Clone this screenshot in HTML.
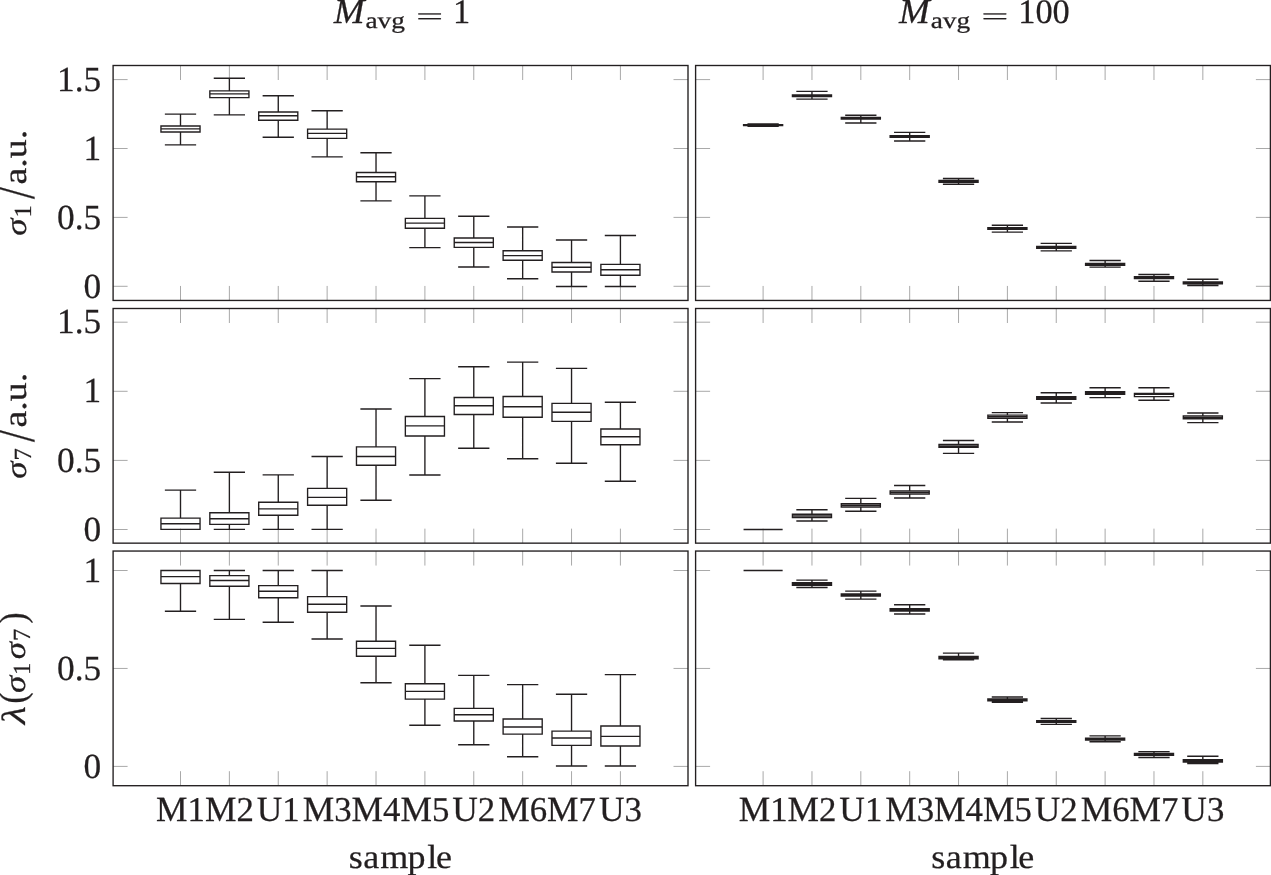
<!DOCTYPE html>
<html lang="en">
<head>
<meta charset="utf-8">
<title>Boxplots</title>
<style>
html,body{margin:0;padding:0;background:#fff;}
body{width:1271px;height:875px;overflow:hidden;}
svg{display:block;}
text{font-family:"Liberation Serif",serif;fill:#231f20;stroke:#231f20;stroke-width:0.25px;text-rendering:geometricPrecision;}
.ln{fill:none;stroke:#231f20;stroke-width:1.36;stroke-linecap:butt;stroke-linejoin:miter;}
.tk{fill:none;stroke:#808080;stroke-width:0.68;}
</style>
</head>
<body>
<svg width="1271" height="875" viewBox="0 0 1271 875">
<rect width="1271" height="875" fill="#fff"/>
<path class="tk" d="M180.5 65.5v14.5M180.5 300.45v-14.5M229.38 65.5v14.5M229.38 300.45v-14.5M278.26 65.5v14.5M278.26 300.45v-14.5M327.14 65.5v14.5M327.14 300.45v-14.5M376.02 65.5v14.5M376.02 300.45v-14.5M424.9 65.5v14.5M424.9 300.45v-14.5M473.78 65.5v14.5M473.78 300.45v-14.5M522.66 65.5v14.5M522.66 300.45v-14.5M571.54 65.5v14.5M571.54 300.45v-14.5M620.42 65.5v14.5M620.42 300.45v-14.5M113.1 79.6h14.5M688 79.6h-14.5M113.1 148.5h14.5M688 148.5h-14.5M113.1 217.4h14.5M688 217.4h-14.5M113.1 286.3h14.5M688 286.3h-14.5"/>
<rect class="ln" x="113.1" y="65.5" width="574.9" height="234.95"/>
<path class="ln" d="M164.86 114.1H196.14M164.86 144.9H196.14M180.5 114.1V126M180.5 132V144.9M160.95 126H200.05V132H160.95ZM160.95 128.9H200.05M213.74 78.3H245.02M213.74 114.9H245.02M229.38 78.3V90.9M229.38 97.6V114.9M209.83 90.9H248.93V97.6H209.83ZM209.83 93.9H248.93M262.62 95.8H293.9M262.62 137.3H293.9M278.26 95.8V112M278.26 120.3V137.3M258.71 112H297.81V120.3H258.71ZM258.71 115.7H297.81M311.5 110.8H342.78M311.5 156.9H342.78M327.14 110.8V129.1M327.14 138.4V156.9M307.59 129.1H346.69V138.4H307.59ZM307.59 133.4H346.69M360.38 152.8H391.66M360.38 200.9H391.66M376.02 152.8V172.5M376.02 181.8V200.9M356.47 172.5H395.57V181.8H356.47ZM356.47 176.8H395.57M409.26 195.85H440.54M409.26 247.6H440.54M424.9 195.85V218.35M424.9 228.2V247.6M405.35 218.35H444.45V228.2H405.35ZM405.35 223.06H444.45M458.14 216.3H489.42M458.14 267.05H489.42M473.78 216.3V238M473.78 247.4V267.05M454.23 238H493.33V247.4H454.23ZM454.23 242.5H493.33M507.02 226.95H538.3M507.02 278.7H538.3M522.66 226.95V250.7M522.66 260.3V278.7M503.11 250.7H542.21V260.3H503.11ZM503.11 255.6H542.21M555.9 240H587.18M555.9 286.5H587.18M571.54 240V262.5M571.54 271.95V286.5M551.99 262.5H591.09V271.95H551.99ZM551.99 267.25H591.09M604.78 235.5H636.06M604.78 286.5H636.06M620.42 235.5V264.4M620.42 275.2V286.5M600.87 264.4H639.97V275.2H600.87ZM600.87 269.7H639.97"/>
<path class="tk" d="M763.1 65.5v14.5M763.1 300.45v-14.5M811.96 65.5v14.5M811.96 300.45v-14.5M860.82 65.5v14.5M860.82 300.45v-14.5M909.68 65.5v14.5M909.68 300.45v-14.5M958.54 65.5v14.5M958.54 300.45v-14.5M1007.4 65.5v14.5M1007.4 300.45v-14.5M1056.26 65.5v14.5M1056.26 300.45v-14.5M1105.12 65.5v14.5M1105.12 300.45v-14.5M1153.98 65.5v14.5M1153.98 300.45v-14.5M1202.84 65.5v14.5M1202.84 300.45v-14.5M695.6 79.6h14.5M1270.4 79.6h-14.5M695.6 148.5h14.5M1270.4 148.5h-14.5M695.6 217.4h14.5M1270.4 217.4h-14.5M695.6 286.3h14.5M1270.4 286.3h-14.5"/>
<rect class="ln" x="695.6" y="65.5" width="574.8" height="234.95"/>
<path class="ln" d="M747.46 124H778.74M747.46 126.2H778.74M763.1 124V124.7M763.1 125.5V126.2M743.56 124.7H782.64V125.5H743.56ZM743.56 125.1H782.64M796.32 91.4H827.6M796.32 99.1H827.6M811.96 91.4V94.9M811.96 96.6V99.1M792.42 94.9H831.5V96.6H792.42ZM792.42 95.75H831.5M845.18 115.3H876.46M845.18 123H876.46M860.82 115.3V117.45M860.82 119.15V123M841.28 117.45H880.36V119.15H841.28ZM841.28 118.3H880.36M894.04 132.4H925.32M894.04 141H925.32M909.68 132.4V135.6M909.68 137.3V141M890.14 135.6H929.22V137.3H890.14ZM890.14 136.45H929.22M942.9 178.5H974.18M942.9 184.3H974.18M958.54 178.5V180.55M958.54 182.25V184.3M939 180.55H978.08V182.25H939ZM939 181.4H978.08M991.76 225.2H1023.04M991.76 232.1H1023.04M1007.4 225.2V227.7M1007.4 229.4V232.1M987.86 227.7H1026.94V229.4H987.86ZM987.86 228.55H1026.94M1040.62 243.4H1071.9M1040.62 250.9H1071.9M1056.26 243.4V246.55M1056.26 248.25V250.9M1036.72 246.55H1075.8V248.25H1036.72ZM1036.72 247.4H1075.8M1089.48 260.55H1120.76M1089.48 267.1H1120.76M1105.12 260.55V263.5M1105.12 265.2V267.1M1085.58 263.5H1124.66V265.2H1085.58ZM1085.58 264.35H1124.66M1138.34 274.5H1169.62M1138.34 281.2H1169.62M1153.98 274.5V276.8M1153.98 278.5V281.2M1134.44 276.8H1173.52V278.5H1134.44ZM1134.44 277.65H1173.52M1187.2 279.2H1218.48M1187.2 285.5H1218.48M1202.84 279.2V282M1202.84 283.7V285.5M1183.3 282H1222.38V283.7H1183.3ZM1183.3 282.85H1222.38"/>
<path class="tk" d="M180.5 308.5v14.5M180.5 543.15v-14.5M229.38 308.5v14.5M229.38 543.15v-14.5M278.26 308.5v14.5M278.26 543.15v-14.5M327.14 308.5v14.5M327.14 543.15v-14.5M376.02 308.5v14.5M376.02 543.15v-14.5M424.9 308.5v14.5M424.9 543.15v-14.5M473.78 308.5v14.5M473.78 543.15v-14.5M522.66 308.5v14.5M522.66 543.15v-14.5M571.54 308.5v14.5M571.54 543.15v-14.5M620.42 308.5v14.5M620.42 543.15v-14.5M113.1 322.2h14.5M688 322.2h-14.5M113.1 391.3h14.5M688 391.3h-14.5M113.1 460.4h14.5M688 460.4h-14.5M113.1 529.5h14.5M688 529.5h-14.5"/>
<rect class="ln" x="113.1" y="308.5" width="574.9" height="234.65"/>
<path class="ln" d="M164.86 490.07H196.14M164.86 529.35H196.14M180.5 490.07V518.1M160.95 518.1H200.05V529.35H160.95ZM160.95 523.8H200.05M213.74 472.3H245.02M213.74 529.35H245.02M229.38 472.3V512.8M229.38 524.4V529.35M209.83 512.8H248.93V524.4H209.83ZM209.83 518.7H248.93M262.62 474.9H293.9M262.62 529.35H293.9M278.26 474.9V502.3M278.26 515.2V529.35M258.71 502.3H297.81V515.2H258.71ZM258.71 508.9H297.81M311.5 456.5H342.78M311.5 529.35H342.78M327.14 456.5V488.4M327.14 505.2V529.35M307.59 488.4H346.69V505.2H307.59ZM307.59 497.4H346.69M360.38 409.05H391.66M360.38 500.3H391.66M376.02 409.05V446.9M376.02 465.3V500.3M356.47 446.9H395.57V465.3H356.47ZM356.47 456.5H395.57M409.26 378.67H440.54M409.26 475H440.54M424.9 378.67V416.5M424.9 435.95V475M405.35 416.5H444.45V435.95H405.35ZM405.35 425.9H444.45M458.14 366.8H489.42M458.14 448.2H489.42M473.78 366.8V397.5M473.78 414.5V448.2M454.23 397.5H493.33V414.5H454.23ZM454.23 405.7H493.33M507.02 362.1H538.3M507.02 458.7H538.3M522.66 362.1V396.5M522.66 417.3V458.7M503.11 396.5H542.21V417.3H503.11ZM503.11 406.7H542.21M555.9 368.4H587.18M555.9 463.2H587.18M571.54 368.4V403.4M571.54 421.4V463.2M551.99 403.4H591.09V421.4H551.99ZM551.99 412.2H591.09M604.78 402.2H636.06M604.78 481.2H636.06M620.42 402.2V429M620.42 444.7V481.2M600.87 429H639.97V444.7H600.87ZM600.87 436.8H639.97"/>
<path class="tk" d="M763.1 308.5v14.5M763.1 543.15v-14.5M811.96 308.5v14.5M811.96 543.15v-14.5M860.82 308.5v14.5M860.82 543.15v-14.5M909.68 308.5v14.5M909.68 543.15v-14.5M958.54 308.5v14.5M958.54 543.15v-14.5M1007.4 308.5v14.5M1007.4 543.15v-14.5M1056.26 308.5v14.5M1056.26 543.15v-14.5M1105.12 308.5v14.5M1105.12 543.15v-14.5M1153.98 308.5v14.5M1153.98 543.15v-14.5M1202.84 308.5v14.5M1202.84 543.15v-14.5M695.6 322.2h14.5M1270.4 322.2h-14.5M695.6 391.3h14.5M1270.4 391.3h-14.5M695.6 460.4h14.5M1270.4 460.4h-14.5M695.6 529.5h14.5M1270.4 529.5h-14.5"/>
<rect class="ln" x="695.6" y="308.5" width="574.8" height="234.65"/>
<path class="ln" d="M747.46 529.45H778.74M747.46 529.45H778.74M743.56 529.45H782.64M796.32 509.8H827.6M796.32 521.05H827.6M811.96 509.8V514.2M811.96 517.5V521.05M792.42 514.2H831.5V517.5H792.42ZM792.42 515.85H831.5M845.18 498.35H876.46M845.18 511.25H876.46M860.82 498.35V503.75M860.82 507.05V511.25M841.28 503.75H880.36V507.05H841.28ZM841.28 505.4H880.36M894.04 485.45H925.32M894.04 497.95H925.32M909.68 485.45V490.85M909.68 493.95V497.95M890.14 490.85H929.22V493.95H890.14ZM890.14 492.4H929.22M942.9 440.45H974.18M942.9 453.35H974.18M958.54 440.45V444.4M958.54 447.3V453.35M939 444.4H978.08V447.3H939ZM939 445.85H978.08M991.76 412.6H1023.04M991.76 422H1023.04M1007.4 412.6V415.1M1007.4 418.2V422M987.86 415.1H1026.94V418.2H987.86ZM987.86 416.65H1026.94M1040.62 392.7H1071.9M1040.62 402.95H1071.9M1056.26 392.7V396.7M1056.26 399.2V402.95M1036.72 396.7H1075.8V399.2H1036.72ZM1036.72 397.95H1075.8M1089.48 387.8H1120.76M1089.48 397.65H1120.76M1105.12 387.8V391.6M1105.12 394.3V397.65M1085.58 391.6H1124.66V394.3H1085.58ZM1085.58 392.95H1124.66M1138.34 387.8H1169.62M1138.34 400.3H1169.62M1153.98 387.8V393.4M1153.98 396.6V400.3M1134.44 393.4H1173.52V396.6H1134.44ZM1134.44 394.2H1173.52M1187.2 413H1218.48M1187.2 422.6H1218.48M1202.84 413V415.9M1202.84 418.8V422.6M1183.3 415.9H1222.38V418.8H1183.3ZM1183.3 417.35H1222.38"/>
<path class="tk" d="M180.5 551.05v14.5M180.5 785.7v-14.5M229.38 551.05v14.5M229.38 785.7v-14.5M278.26 551.05v14.5M278.26 785.7v-14.5M327.14 551.05v14.5M327.14 785.7v-14.5M376.02 551.05v14.5M376.02 785.7v-14.5M424.9 551.05v14.5M424.9 785.7v-14.5M473.78 551.05v14.5M473.78 785.7v-14.5M522.66 551.05v14.5M522.66 785.7v-14.5M571.54 551.05v14.5M571.54 785.7v-14.5M620.42 551.05v14.5M620.42 785.7v-14.5M113.1 570.5h14.5M688 570.5h-14.5M113.1 668.45h14.5M688 668.45h-14.5M113.1 766.4h14.5M688 766.4h-14.5"/>
<rect class="ln" x="113.1" y="551.05" width="574.9" height="234.65"/>
<path class="ln" d="M164.86 570.46H196.14M164.86 611.2H196.14M180.5 583.55V611.2M160.95 570.46H200.05V583.55H160.95ZM160.95 576.6H200.05M213.74 570.46H245.02M213.74 619.35H245.02M229.38 570.46V575.6M229.38 586.2V619.35M209.83 575.6H248.93V586.2H209.83ZM209.83 580.5H248.93M262.62 570.46H293.9M262.62 622.2H293.9M278.26 570.46V585.6M278.26 597.7V622.2M258.71 585.6H297.81V597.7H258.71ZM258.71 591.3H297.81M311.5 570.46H342.78M311.5 639H342.78M327.14 570.46V596.6M327.14 612.2V639M307.59 596.6H346.69V612.2H307.59ZM307.59 604.2H346.69M360.38 606.05H391.66M360.38 682.8H391.66M376.02 606.05V641.2M376.02 656.2V682.8M356.47 641.2H395.57V656.2H356.47ZM356.47 648.4H395.57M409.26 645.3H440.54M409.26 725.3H440.54M424.9 645.3V683.8M424.9 699.15V725.3M405.35 683.8H444.45V699.15H405.35ZM405.35 691.4H444.45M458.14 675.4H489.42M458.14 744.8H489.42M473.78 675.4V708.35M473.78 721V744.8M454.23 708.35H493.33V721H454.23ZM454.23 714.7H493.33M507.02 684.6H538.3M507.02 756.8H538.3M522.66 684.6V719M522.66 734.1V756.8M503.11 719H542.21V734.1H503.11ZM503.11 727H542.21M555.9 694.2H587.18M555.9 766.05H587.18M571.54 694.2V731.1M571.54 745.4V766.05M551.99 731.1H591.09V745.4H551.99ZM551.99 738H591.09M604.78 674.6H636.06M604.78 766.05H636.06M620.42 674.6V725.95M620.42 746V766.05M600.87 725.95H639.97V746H600.87ZM600.87 736.4H639.97"/>
<path class="tk" d="M763.1 551.05v14.5M763.1 785.7v-14.5M811.96 551.05v14.5M811.96 785.7v-14.5M860.82 551.05v14.5M860.82 785.7v-14.5M909.68 551.05v14.5M909.68 785.7v-14.5M958.54 551.05v14.5M958.54 785.7v-14.5M1007.4 551.05v14.5M1007.4 785.7v-14.5M1056.26 551.05v14.5M1056.26 785.7v-14.5M1105.12 551.05v14.5M1105.12 785.7v-14.5M1153.98 551.05v14.5M1153.98 785.7v-14.5M1202.84 551.05v14.5M1202.84 785.7v-14.5M695.6 570.5h14.5M1270.4 570.5h-14.5M695.6 668.45h14.5M1270.4 668.45h-14.5M695.6 766.4h14.5M1270.4 766.4h-14.5"/>
<rect class="ln" x="695.6" y="551.05" width="574.8" height="234.65"/>
<path class="ln" d="M747.46 570.46H778.74M747.46 570.46H778.74M743.56 570.46H782.64M796.32 580.1H827.6M796.32 587.45H827.6M811.96 580.1V582.8M811.96 585.3V587.45M792.42 582.8H831.5V585.3H792.42ZM792.42 584.05H831.5M845.18 591.1H876.46M845.18 599.1H876.46M860.82 591.1V593.9M860.82 596.15V599.1M841.28 593.9H880.36V596.15H841.28ZM841.28 595H880.36M894.04 604.8H925.32M894.04 614H925.32M909.68 604.8V608.6M909.68 611.1V614M890.14 608.6H929.22V611.1H890.14ZM890.14 609.85H929.22M942.9 653.1H974.18M942.9 659.9H974.18M958.54 653.1V656.5M958.54 658.75V659.9M939 656.5H978.08V658.75H939ZM939 657.6H978.08M991.76 697H1023.04M991.76 702.3H1023.04M1007.4 697V698.9M1007.4 700.8V702.3M987.86 698.9H1026.94V700.8H987.86ZM987.86 699.85H1026.94M1040.62 718.45H1071.9M1040.62 724.4H1071.9M1056.26 718.45V720.6M1056.26 722.25V724.4M1036.72 720.6H1075.8V722.25H1036.72ZM1036.72 721.4H1075.8M1089.48 735.85H1120.76M1089.48 741.8H1120.76M1105.12 735.85V738.2M1105.12 740.05V741.8M1085.58 738.2H1124.66V740.05H1085.58ZM1085.58 739.1H1124.66M1138.34 751.6H1169.62M1138.34 757.5H1169.62M1153.98 751.6V753.5M1153.98 755.2V757.5M1134.44 753.5H1173.52V755.2H1134.44ZM1134.44 754.35H1173.52M1187.2 756.3H1218.48M1187.2 763.5H1218.48M1202.84 756.3V759.7M1202.84 762.15V763.5M1183.3 759.7H1222.38V762.15H1183.3ZM1183.3 760.9H1222.38"/>
<text x="101.2" y="91" font-size="35.3" text-anchor="end">1.5</text>
<text x="101.2" y="160" font-size="35.3" text-anchor="end">1</text>
<text x="101.2" y="229" font-size="35.3" text-anchor="end">0.5</text>
<text x="101.2" y="298" font-size="35.3" text-anchor="end">0</text>
<text x="101.2" y="333" font-size="35.3" text-anchor="end">1.5</text>
<text x="101.2" y="402" font-size="35.3" text-anchor="end">1</text>
<text x="101.2" y="472" font-size="35.3" text-anchor="end">0.5</text>
<text x="101.2" y="541" font-size="35.3" text-anchor="end">0</text>
<text x="101.2" y="582" font-size="35.3" text-anchor="end">1</text>
<text x="101.2" y="680" font-size="35.3" text-anchor="end">0.5</text>
<text x="101.2" y="778" font-size="35.3" text-anchor="end">0</text>
<text x="180.5" y="821" font-size="34.8" text-anchor="middle"><tspan font-size="35.4">M</tspan>1</text>
<text x="229.38" y="821" font-size="34.8" text-anchor="middle"><tspan font-size="35.4">M</tspan>2</text>
<text x="278.26" y="821" font-size="34.8" text-anchor="middle"><tspan font-size="35.4">U</tspan>1</text>
<text x="327.14" y="821" font-size="34.8" text-anchor="middle"><tspan font-size="35.4">M</tspan>3</text>
<text x="376.02" y="821" font-size="34.8" text-anchor="middle"><tspan font-size="35.4">M</tspan>4</text>
<text x="424.9" y="821" font-size="34.8" text-anchor="middle"><tspan font-size="35.4">M</tspan>5</text>
<text x="473.78" y="821" font-size="34.8" text-anchor="middle"><tspan font-size="35.4">U</tspan>2</text>
<text x="522.66" y="821" font-size="34.8" text-anchor="middle"><tspan font-size="35.4">M</tspan>6</text>
<text x="571.54" y="821" font-size="34.8" text-anchor="middle"><tspan font-size="35.4">M</tspan>7</text>
<text x="620.42" y="821" font-size="34.8" text-anchor="middle"><tspan font-size="35.4">U</tspan>3</text>
<text x="763.1" y="821" font-size="34.8" text-anchor="middle"><tspan font-size="35.4">M</tspan>1</text>
<text x="811.96" y="821" font-size="34.8" text-anchor="middle"><tspan font-size="35.4">M</tspan>2</text>
<text x="860.82" y="821" font-size="34.8" text-anchor="middle"><tspan font-size="35.4">U</tspan>1</text>
<text x="909.68" y="821" font-size="34.8" text-anchor="middle"><tspan font-size="35.4">M</tspan>3</text>
<text x="958.54" y="821" font-size="34.8" text-anchor="middle"><tspan font-size="35.4">M</tspan>4</text>
<text x="1007.4" y="821" font-size="34.8" text-anchor="middle"><tspan font-size="35.4">M</tspan>5</text>
<text x="1056.26" y="821" font-size="34.8" text-anchor="middle"><tspan font-size="35.4">U</tspan>2</text>
<text x="1105.12" y="821" font-size="34.8" text-anchor="middle"><tspan font-size="35.4">M</tspan>6</text>
<text x="1153.98" y="821" font-size="34.8" text-anchor="middle"><tspan font-size="35.4">M</tspan>7</text>
<text x="1202.84" y="821" font-size="34.8" text-anchor="middle"><tspan font-size="35.4">U</tspan>3</text>
<text transform="translate(348.8 868) scale(1.078 1)" font-size="33.4" x="0 13.45 29.13 54.45 72.82 80.8">sample</text>
<text transform="translate(931.25 868) scale(1.078 1)" font-size="33.4" x="0 13.45 29.13 54.45 72.82 80.8">sample</text>
<text transform="translate(333.8 23) scale(1.05 1)" font-size="35.2" font-style="italic">M</text>
<text transform="translate(365.4 28) scale(1.2 1)" font-size="22.8">avg</text>
<text transform="translate(415.9 23.96) scale(1.42 0.69)" font-size="34" stroke="#231f20" stroke-width="0.5">=</text>
<text x="452.9" y="23" font-size="34.4">1</text>
<text transform="translate(899.1 23) scale(1.05 1)" font-size="35.2" font-style="italic">M</text>
<text transform="translate(930.7 28) scale(1.2 1)" font-size="22.8">avg</text>
<text transform="translate(981.2 23.96) scale(1.42 0.69)" font-size="34" stroke="#231f20" stroke-width="0.5">=</text>
<text x="1018.2" y="23" font-size="34.4">100</text>
<g transform="translate(25.9 234.7) rotate(-90)"><text transform="translate(-1 0) scale(1.16 1)" font-size="30" font-style="italic">σ</text><text x="17.2" y="4.8" font-size="24.6">1</text><text transform="translate(35.6 7.7) scale(0.82 1)" font-size="52.5">/</text><text transform="translate(50.2 0) scale(1.15 1)" font-size="33">a.u.</text></g>
<g transform="translate(25.9 477.7) rotate(-90)"><text transform="translate(-1 0) scale(1.16 1)" font-size="30" font-style="italic">σ</text><text x="17.2" y="4.8" font-size="24.6">7</text><text transform="translate(35.6 7.7) scale(0.82 1)" font-size="52.5">/</text><text transform="translate(50.2 0) scale(1.15 1)" font-size="33">a.u.</text></g>
<g transform="translate(25.4 725.1) rotate(-90)"><text transform="translate(0.8 0) scale(1.24 1)" font-size="33.5" font-style="italic">λ</text><text transform="translate(21.5 0) scale(0.88 1)" font-size="37.5">(</text><text transform="translate(32 0) scale(1.16 1)" font-size="30" font-style="italic">σ</text><text x="50.2" y="4.8" font-size="24.6">1</text><text transform="translate(65.8 0) scale(1.16 1)" font-size="30" font-style="italic">σ</text><text x="84" y="4.8" font-size="24.6">7</text><text transform="translate(101.5 0) scale(0.88 1)" font-size="37.5">)</text></g>
</svg>
</body>
</html>
